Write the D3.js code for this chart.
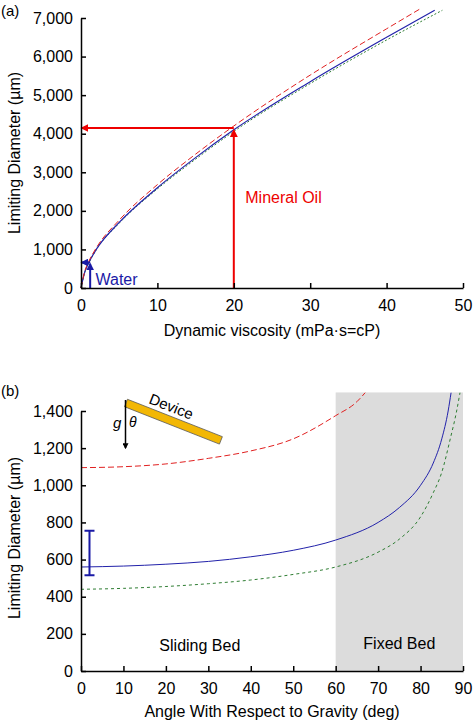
<!DOCTYPE html>
<html><head><meta charset="utf-8">
<script src="https://cdn.jsdelivr.net/npm/d3@7"></script>
<style>body{margin:0;background:#fff;font-family:"Liberation Sans",Arial,sans-serif}</style>
</head><body>
<script>
// panel (a) data
var viscBlue = [[0,0],[0.5,420],[1,650],[2,1000],[5,1700],[10,2600],[15,3380],[20,4100],[30,5350],[40,6500],[46.3,7200]];
var viscRed = [[0,0],[0.5,440],[1,680],[2,1040],[5,1760],[10,2680],[15,3470],[20,4200],[30,5520],[40,6720],[44.5,7250]];
var viscGreen = [[0,0],[0.5,410],[1,640],[2,990],[5,1680],[10,2570],[15,3340],[20,4060],[30,5300],[40,6430],[47.3,7200]];
var xTicksA = [0,10,20,30,40,50], yTicksA = [0,1000,2000,3000,4000,5000,6000,7000];
// panel (b) data
var angBlue = [[0,560],[10,565],[20,575],[30,590],[40,615],[50,650],[60,705],[70,800],[75,880],[80,1000],[83,1120],[85,1250],[86.5,1400],[87.2,1500]];
var angRed = [[0,1095],[10,1100],[20,1115],[30,1145],[40,1185],[50,1250],[60,1375],[65,1450],[67,1500]];
var angGreen = [[0,440],[10,445],[20,455],[30,470],[40,490],[50,520],[60,560],[70,640],[75,710],[80,830],[83,960],[85,1070],[87,1250],[88.5,1400],[89.3,1500]];
var xTicksB = [0,10,20,30,40,50,60,70,80,90], yTicksB = [0,200,400,600,800,1000,1200,1400];
var errBar = {x:2, lo:515, hi:755};

var svg = d3.select("body").append("svg").attr("width",474).attr("height",726);
var defs = svg.append("defs");
[["ar","#e00"],["ab","#1a1aa6"],["ak","#000"]].forEach(function(m){
  defs.append("marker").attr("id",m[0]).attr("viewBox","0 0 10 10").attr("refX",8).attr("refY",5)
    .attr("markerWidth",4).attr("markerHeight",4).attr("orient","auto-start-reverse")
    .append("path").attr("d","M0,0L10,5L0,10z").attr("fill",m[1]);
});

function axes(g, x, y, xt, yt, h){
  g.append("g").attr("transform","translate(0,"+h+")").call(d3.axisBottom(x).tickValues(xt).tickSize(-5).tickSizeOuter(0).tickPadding(12))
    .call(a=>a.selectAll("text").style("font-size","16px").attr("fill","#000"))
    .call(a=>a.selectAll("line,path").attr("stroke","#000").attr("stroke-width",1.5));
  g.append("g").attr("transform","translate("+x.range()[0]+",0)").call(d3.axisLeft(y).tickValues(yt).tickSize(-5).tickSizeOuter(0).tickPadding(8))
    .call(a=>a.selectAll("text").style("font-size","16px").attr("fill","#000"))
    .call(a=>a.selectAll("line,path").attr("stroke","#000").attr("stroke-width",1.5));
}
var line = function(x,y){ return d3.line().x(d=>x(d[0])).y(d=>y(d[1])).curve(d3.curveMonotoneX); };

// ---- panel (a)
var xa = d3.scaleLinear().domain([0,50]).range([81,463]);
var ya = d3.scaleLinear().domain([0,7000]).range([288,18]);
var ga = svg.append("g");
ga.append("path").attr("d",line(xa,ya)(viscGreen)).attr("fill","none").attr("stroke","#2e7d32").attr("stroke-width",1).attr("stroke-dasharray","2,2");
ga.append("path").attr("d",line(xa,ya)(viscBlue)).attr("fill","none").attr("stroke","#2222aa").attr("stroke-width",1.2);
ga.append("path").attr("d",line(xa,ya)(viscRed)).attr("fill","none").attr("stroke","#e02020").attr("stroke-width",1).attr("stroke-dasharray","6,3");
// mineral oil arrows
ga.append("line").attr("x1",xa(20)).attr("x2",xa(20)).attr("y1",ya(0)).attr("y2",ya(4080)).attr("stroke","#e00").attr("stroke-width",2).attr("marker-end","url(#ar)");
ga.append("line").attr("x1",xa(20)).attr("x2",xa(0)+1).attr("y1",ya(4150)).attr("y2",ya(4150)).attr("stroke","#e00").attr("stroke-width",2).attr("marker-end","url(#ar)");
ga.append("text").attr("x",xa(21.5)).attr("y",ya(2200)).attr("fill","#e00").attr("font-size",16).text("Mineral Oil");
// water arrows
ga.append("line").attr("x1",xa(1.2)).attr("x2",xa(1.2)).attr("y1",ya(0)).attr("y2",ya(620)).attr("stroke","#1a1aa6").attr("stroke-width",2).attr("marker-end","url(#ab)");
ga.append("line").attr("x1",xa(1.2)).attr("x2",xa(0)+1).attr("y1",ya(660)).attr("y2",ya(660)).attr("stroke","#1a1aa6").attr("stroke-width",2).attr("marker-end","url(#ab)");
ga.append("text").attr("x",xa(1.9)).attr("y",ya(80)).attr("fill","#1a1aa6").attr("font-size",16).text("Water");
axes(ga, xa, ya, xTicksA, yTicksA, 288);
ga.append("text").attr("x",1).attr("y",16).attr("font-size",15).text("(a)");
ga.append("text").attr("transform","translate(20,153)rotate(-90)").attr("text-anchor","middle").attr("font-size",16).text("Limiting Diameter (\u00b5m)");
ga.append("text").attr("x",272).attr("y",336).attr("text-anchor","middle").attr("font-size",16).text("Dynamic viscosity (mPa\u00b7s=cP)");

// ---- panel (b)
var xb = d3.scaleLinear().domain([0,90]).range([81,463]);
var yb = d3.scaleLinear().domain([0,1400]).range([671,411]);
var gb = svg.append("g");
gb.append("defs").append("clipPath").attr("id","cb").append("rect").attr("x",81).attr("y",yb(1500)).attr("width",382).attr("height",yb(0)-yb(1500));
gb.append("rect").attr("x",xb(60)).attr("y",yb(1500)).attr("width",xb(90)-xb(60)).attr("height",yb(0)-yb(1500)).attr("fill","#dcdcdc");
var cl = gb.append("g").attr("clip-path","url(#cb)");
cl.append("path").attr("d",line(xb,yb)(angGreen)).attr("fill","none").attr("stroke","#2e7d32").attr("stroke-width",1).attr("stroke-dasharray","3,3");
cl.append("path").attr("d",line(xb,yb)(angBlue)).attr("fill","none").attr("stroke","#2222aa").attr("stroke-width",1);
cl.append("path").attr("d",line(xb,yb)(angRed)).attr("fill","none").attr("stroke","#e02020").attr("stroke-width",1).attr("stroke-dasharray","6,3");
// error bar
var ex = xb(errBar.x);
gb.append("path").attr("d","M"+(ex-5)+","+yb(errBar.hi)+"H"+(ex+5)+"M"+ex+","+yb(errBar.hi)+"V"+yb(errBar.lo)+"M"+(ex-5)+","+yb(errBar.lo)+"H"+(ex+5))
  .attr("stroke","#1a1aa6").attr("stroke-width",2).attr("fill","none");
axes(gb, xb, yb, xTicksB, yTicksB, 671);
gb.append("text").attr("x",xb(28)).attr("y",yb(110)).attr("text-anchor","middle").attr("font-size",16).text("Sliding Bed");
gb.append("text").attr("x",xb(75)).attr("y",yb(120)).attr("text-anchor","middle").attr("font-size",16).text("Fixed Bed");
gb.append("text").attr("x",1).attr("y",396).attr("font-size",15).text("(b)");
gb.append("text").attr("transform","translate(20,538)rotate(-90)").attr("text-anchor","middle").attr("font-size",16).text("Limiting Diameter (\u00b5m)");
gb.append("text").attr("x",272).attr("y",717).attr("text-anchor","middle").attr("font-size",16).text("Angle With Respect to Gravity (deg)");
// device sketch
gb.append("rect").attr("x",0).attr("y",-4).attr("width",102).attr("height",8).attr("fill","#f2b705").attr("stroke","#555").attr("stroke-width",0.7)
  .attr("transform","translate(126,403)rotate(21.5)");
gb.append("text").attr("font-size",15).attr("transform","translate(148,403)rotate(21.5)").text("Device");
gb.append("line").attr("x1",125.5).attr("x2",125.5).attr("y1",400).attr("y2",448).attr("stroke","#000").attr("stroke-width",1.5).attr("marker-end","url(#ak)");
gb.append("text").attr("x",113).attr("y",428).attr("font-size",15).attr("font-style","italic").text("g");
gb.append("text").attr("x",129).attr("y",427).attr("font-size",14).attr("font-style","italic").text("\u03b8");
</script>
</body></html>
